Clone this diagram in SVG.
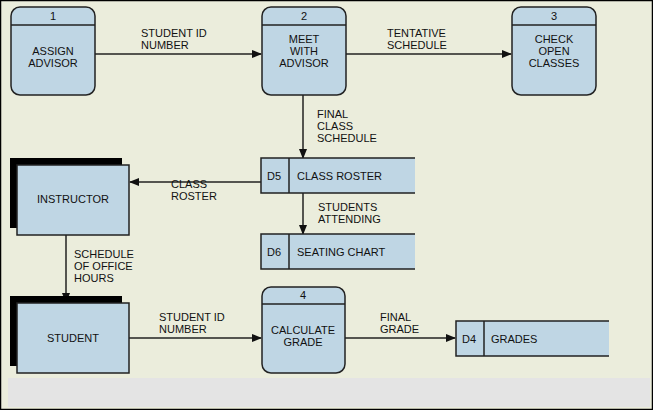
<svg xmlns="http://www.w3.org/2000/svg" width="653" height="410" viewBox="0 0 653 410">
<style>
text{font-family:"Liberation Sans",Arial,sans-serif;font-size:11px;fill:#111}
.c{text-anchor:middle}
.p{fill:#bfd6e4;stroke:#222;stroke-width:1.5}
.s{fill:#bfd6e4;stroke:#222;stroke-width:1.5}
.l{stroke:#222;stroke-width:1.5;fill:none}
</style>
<defs><marker id="a" markerWidth="10" markerHeight="8" refX="9" refY="4" orient="auto" markerUnits="userSpaceOnUse"><path d="M0,0L10,4L0,8z" fill="#111"/></marker></defs>
<rect x="0.5" y="0.5" width="652" height="409" fill="#ebeddc" stroke="#000" stroke-width="1.5"/>
<rect x="8" y="378" width="642" height="29" fill="#e4e4e4"/>
<g id="connectors" class="l">
<path class="l" d="M95,54H261" marker-end="url(#a)"/>
<path class="l" d="M346,54H511" marker-end="url(#a)"/>
<path class="l" d="M303,95V158" marker-end="url(#a)"/>
<path class="l" d="M261,182H130" marker-end="url(#a)"/>
<path class="l" d="M303,193V234" marker-end="url(#a)"/>
<path class="l" d="M66,235V302" marker-end="url(#a)"/>
<path class="l" d="M129,338H261" marker-end="url(#a)"/>
<path class="l" d="M345,338H455" marker-end="url(#a)"/>
</g>
<g id="labels">
<text x="141" y="37">STUDENT ID</text><text x="141" y="49">NUMBER</text>
<text x="387" y="37">TENTATIVE</text><text x="387" y="49">SCHEDULE</text>
<text x="317" y="118">FINAL</text><text x="317" y="130">CLASS</text><text x="317" y="142">SCHEDULE</text>
<text x="171" y="188">CLASS</text><text x="171" y="200">ROSTER</text>
<text x="318" y="211">STUDENTS</text><text x="318" y="223">ATTENDING</text>
<text x="74" y="258">SCHEDULE</text><text x="74" y="270">OF OFFICE</text><text x="74" y="282">HOURS</text>
<text x="159" y="364" transform="translate(0,-43)">STUDENT ID</text><text x="159" y="333">NUMBER</text>
<text x="380" y="321">FINAL</text><text x="380" y="333">GRADE</text>
</g>
<g id="p1"><rect class="p" x="11" y="7" width="84" height="88" rx="9"/><path class="l" d="M11,25H95"/>
<text class="c" x="53" y="20">1</text><text class="c" x="53" y="55">ASSIGN</text><text class="c" x="53" y="67">ADVISOR</text></g>
<g id="p2"><rect class="p" x="262" y="7" width="84" height="88" rx="9"/><path class="l" d="M262,25H346"/>
<text class="c" x="304" y="20">2</text><text class="c" x="304" y="43">MEET</text><text class="c" x="304" y="55">WITH</text><text class="c" x="304" y="67">ADVISOR</text></g>
<g id="p3"><rect class="p" x="512" y="7" width="84" height="88" rx="9"/><path class="l" d="M512,25H596"/>
<text class="c" x="554" y="20">3</text><text class="c" x="554" y="43">CHECK</text><text class="c" x="554" y="55">OPEN</text><text class="c" x="554" y="67">CLASSES</text></g>
<g id="p4"><rect class="p" x="262" y="287" width="83" height="86" rx="9"/><path class="l" d="M262,304H345"/>
<text class="c" x="303" y="299">4</text><text class="c" x="303" y="334">CALCULATE</text><text class="c" x="303" y="346">GRADE</text></g>
<g id="d5"><path class="s" d="M415,158H261V193H415"/><path class="l" d="M289,158V193"/>
<text x="267" y="180">D5</text><text x="297" y="180">CLASS ROSTER</text></g>
<g id="d6"><path class="s" d="M415,234H261V269H415"/><path class="l" d="M289,234V269"/>
<text x="267" y="256">D6</text><text x="297" y="256">SEATING CHART</text></g>
<g id="d4"><path class="s" d="M609,321H456V356H609"/><path class="l" d="M484,321V356"/>
<text x="462" y="343">D4</text><text x="491" y="343">GRADES</text></g>
<g id="instructor"><rect x="10" y="158" width="112" height="70" fill="#000"/><rect class="p" x="17" y="165" width="112" height="70"/>
<text class="c" x="73" y="203">INSTRUCTOR</text></g>
<g id="student"><rect x="10" y="296" width="112" height="70" fill="#000"/><rect class="p" x="17" y="303" width="112" height="70"/>
<text class="c" x="73" y="342">STUDENT</text></g>
</svg>
